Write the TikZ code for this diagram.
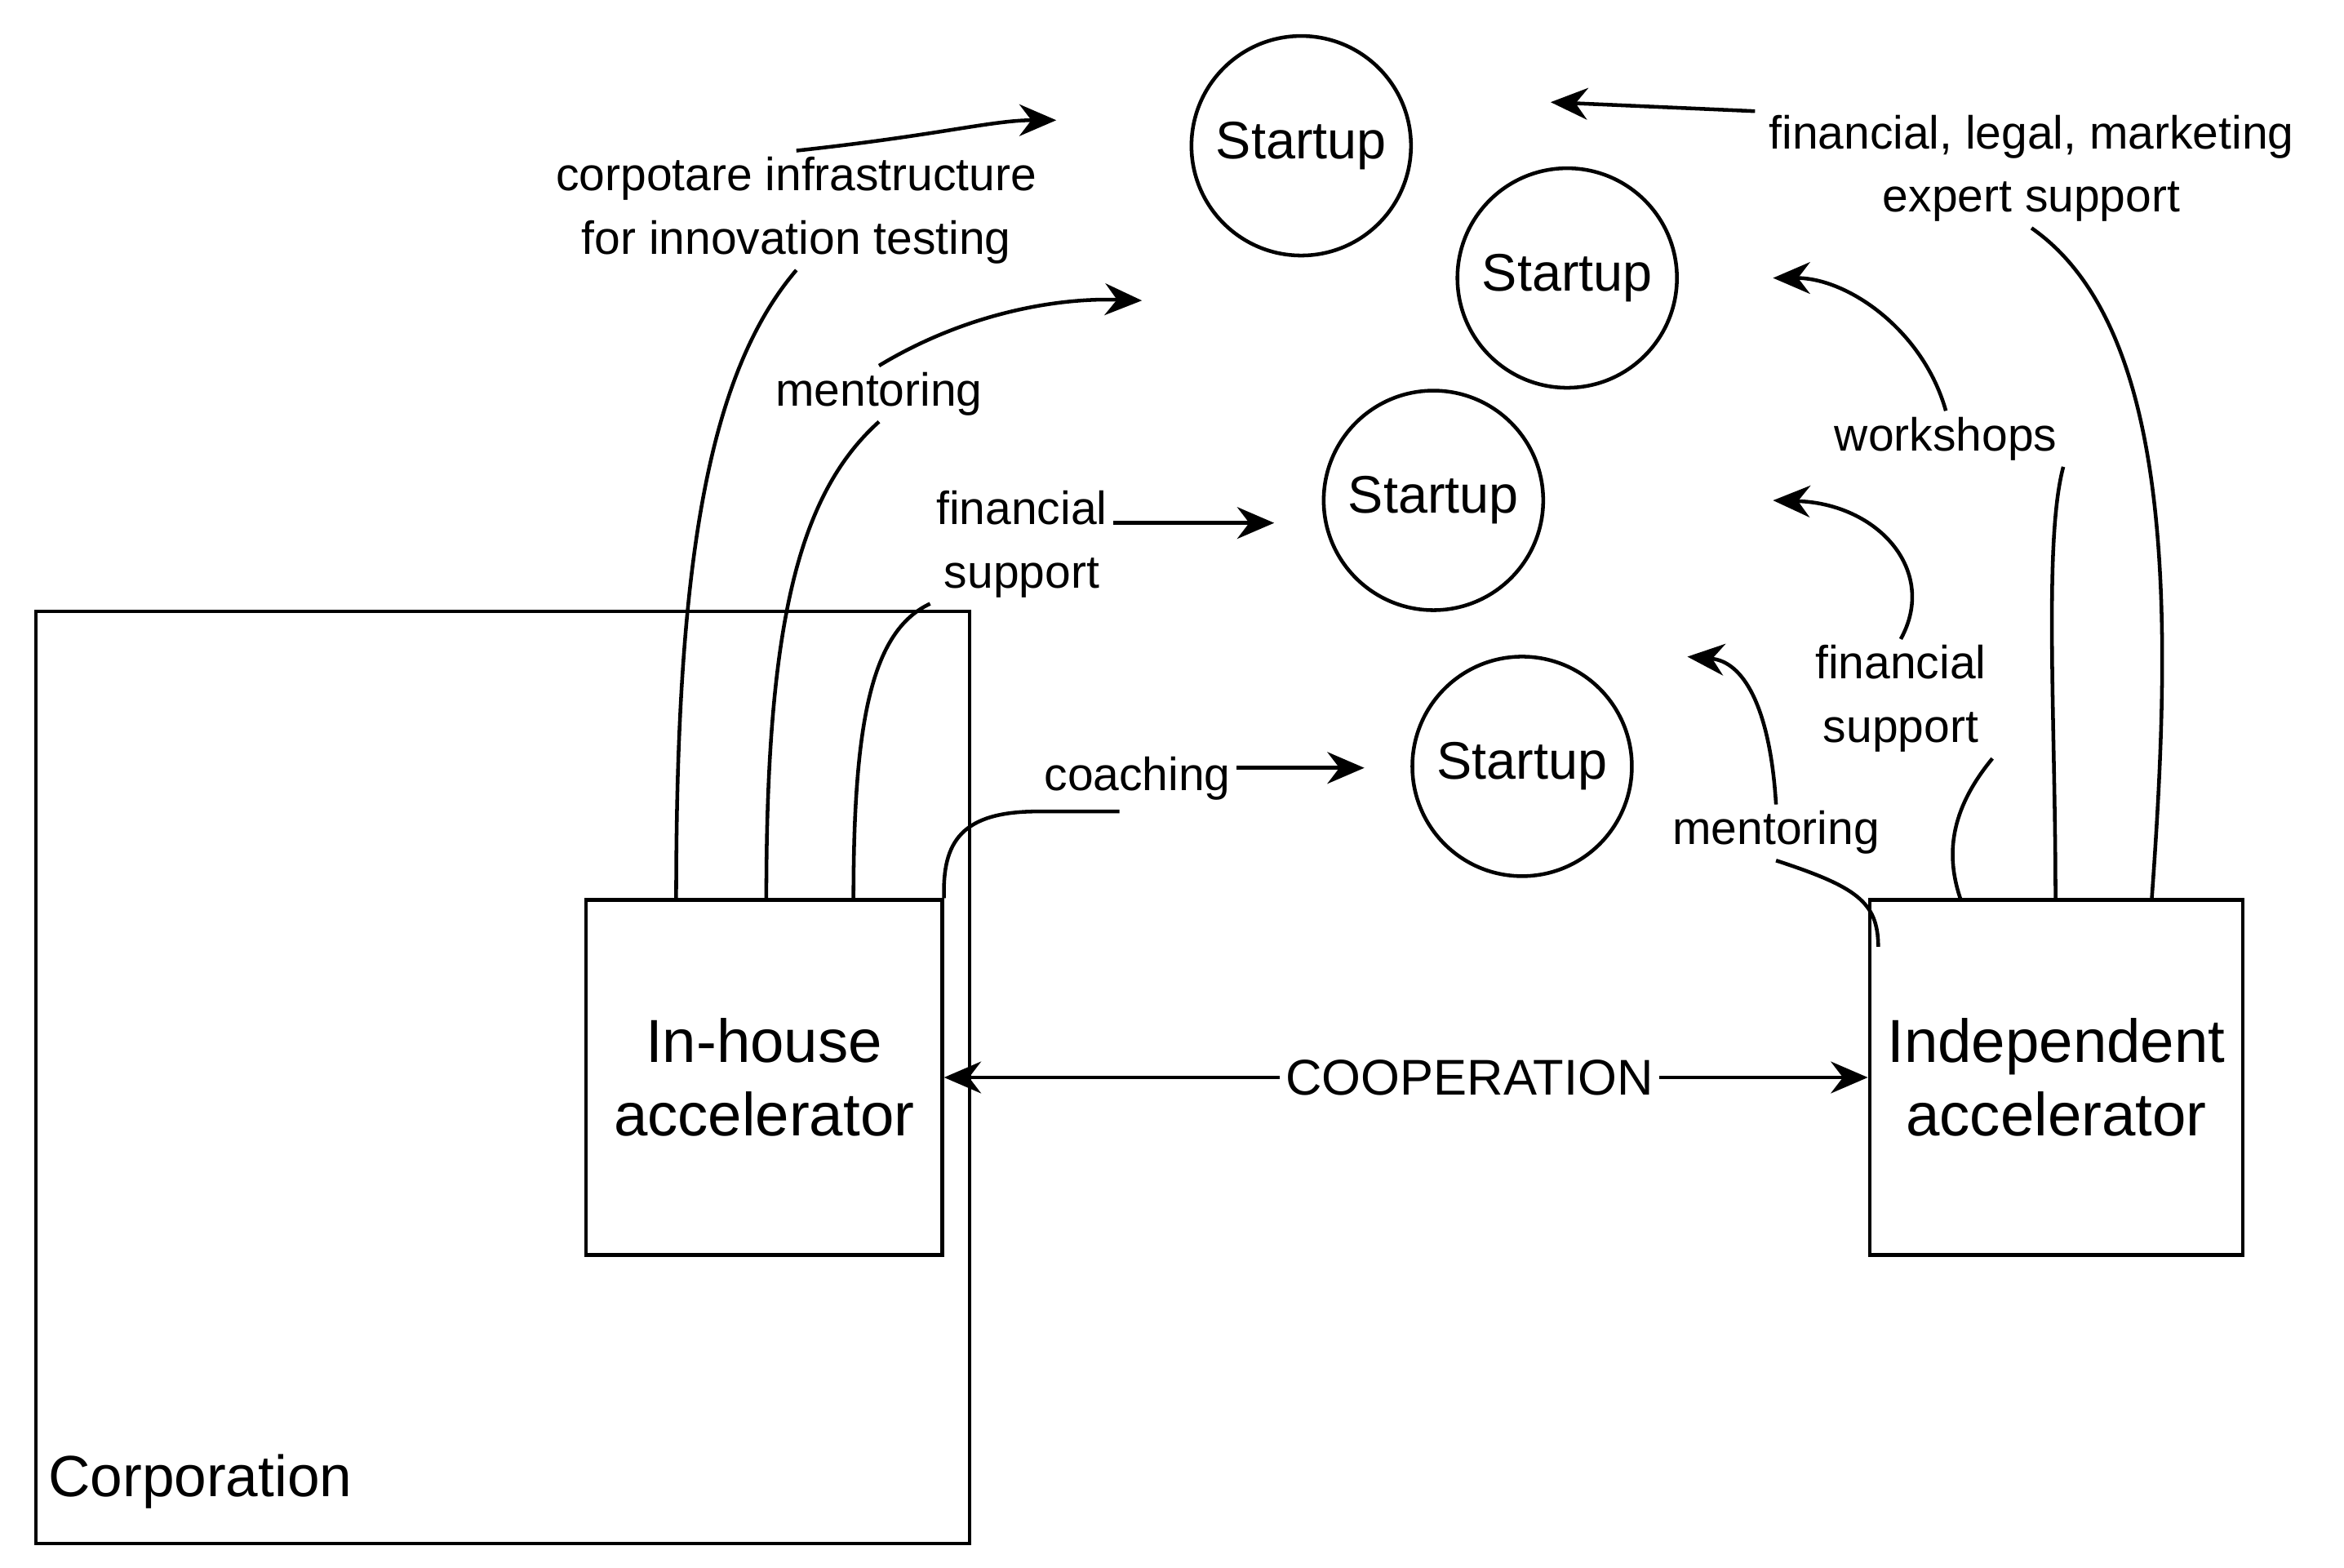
\documentclass[tikz,border=0pt]{standalone}
\usepackage{fontspec}
\setmainfont{Liberation Sans}
\usetikzlibrary{arrows.meta}
\begin{document}
\begin{tikzpicture}[x=0.01cm,y=-0.01cm,
  box/.style={draw,line width=0.7pt,minimum width=2.37cm,minimum height=2.36cm,align=center,font=\fontsize{11.5}{14}\selectfont},
  st/.style={draw,circle,line width=0.7pt,minimum size=1.46cm,inner sep=0pt,font=\fontsize{10}{12}\selectfont},
  lab/.style={fill=white,inner sep=1pt,align=center,font=\fontsize{8.8}{12}\selectfont},
  arr/.style={line width=0.7pt,-{Stealth[length=7pt,width=6pt]}},
  ln/.style={line width=0.7pt}]
\useasboundingbox (0,0) rectangle (1560,1043);
\node[draw,line width=0.7pt,minimum width=6.21cm,minimum height=6.2cm] (corp) at (334.5,717) {};
\node[anchor=south west,font=\fontsize{11}{13}\selectfont,inner sep=1pt] (corplab) at (28,1008) {Corporation};
\node[box] (in) at (508.5,717) {In-house\\accelerator};
\node[box] (ind) at (1368.5,717) {Independent\\accelerator};
\node[st] (s1) at (866,97) {Startup};
\node[st] (s2) at (1043,185) {Startup};
\node[st] (s3) at (954,333) {Startup};
\node[st] (s4) at (1013,510) {Startup};
\node[lab,font=\fontsize{9.5}{12}\selectfont] (coop) at (978,717) {COOPERATION};
\draw[arr] (coop) -- (ind.west);
\draw[arr] (coop) -- (in.east);
% in-house
\node[lab] (l1) at (530,140) {corpotare infrastructure\\for innovation testing};
\coordinate (e1) at (703,80);
\draw[ln] (450,599) .. controls (450,380) and (470,250) .. (l1.south);
\draw[arr] (l1.north) .. controls (625,90) and (660,80) .. (e1);
\node[lab] (l2) at (585,262) {mentoring};
\coordinate (e2) at (760,200);
\draw[ln] (510,599) .. controls (510,420) and (530,330) .. (l2.south);
\draw[arr] (l2.north) .. controls (640,210) and (700,198) .. (e2);
\node[lab] (l3) at (680,362) {financial\\support};
\coordinate (e3) at (848,348);
\draw[ln] (568,599) .. controls (568,480) and (580,420) .. (l3.south west);
\draw[arr] (l3.east|-e3) -- (e3);
\node[lab] (l4) at (757,518) {coaching};
\coordinate (e4) at (908,511);
\draw[ln] (in.north east) .. controls (627,560) and (640,540) .. (l4.west|-0,540) -- (745,540);
\draw[arr] (l4.east|-e4) -- (e4);
% independent
\node[lab] (r1) at (1352,112) {financial, legal, marketing\\expert support};
\coordinate (f1) at (1032,68);
\draw[ln] (1432,599) .. controls (1445,420) and (1450,220) .. (r1.south);
\draw[arr] (1168,74) -- (f1);
\node[lab] (r2) at (1295,292) {workshops};
\coordinate (f2) at (1180,185);
\draw[ln] (1368,599) .. controls (1368,480) and (1360,360) .. (r2.south east);
\draw[arr] (r2.north) .. controls (1280,220) and (1230,185) .. (f2);
\node[lab] (r3) at (1265,465) {financial\\support};
\coordinate (f3) at (1180,333);
\draw[ln] (1305,599) .. controls (1295,570) and (1297,540) .. (r3.south east);
\draw[arr] (r3.north) .. controls (1290,380) and (1250,335) .. (f3);
\node[lab] (r4) at (1182,554) {mentoring};
\coordinate (f4) at (1123,437);
\draw[ln] (1250,630) .. controls (1250,600) and (1235,590) .. (r4.south);
\draw[arr] (r4.north) .. controls (1178,470) and (1160,440) .. (f4);
\end{tikzpicture}
\end{document}
